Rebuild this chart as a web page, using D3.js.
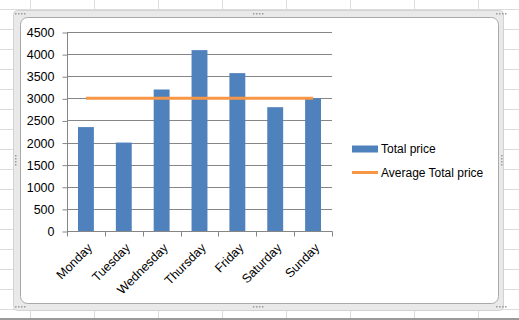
<!DOCTYPE html>
<html><head><meta charset="utf-8">
<script src="https://cdn.jsdelivr.net/npm/d3@7"></script>
<style>body{margin:0;background:#fff}svg{display:block}text{font-family:"Liberation Sans",Arial,sans-serif;fill:#000}</style>
</head><body><svg id="c" width="519" height="320"></svg>
<script>
const categories = ["Monday","Tuesday","Wednesday","Thursday","Friday","Saturday","Sunday"];
const totalPrice = [2350, 2000, 3200, 4090, 3570, 2800, 3000];
const averageTotal = [3000, 3000, 3000, 3000, 3000, 3000, 3000];
const yTicks = [0, 500, 1000, 1500, 2000, 2500, 3000, 3500, 4000, 4500];
const seriesNames = ["Total price", "Average Total price"];

const svg = d3.select("#c");
// spreadsheet grid
const g0 = svg.append("g");
for (let x = 30; x < 519; x += 64) g0.append("line").attr("x1", x+0.5).attr("x2", x+0.5).attr("y1", 0).attr("y2", 320).attr("stroke", "#dadcdd");
for (let y = 9; y < 320; y += 20) g0.append("line").attr("x1", 0).attr("x2", 519).attr("y1", y+0.5).attr("y2", y+0.5).attr("stroke", "#dadcdd");
svg.append("rect").attr("x", 0).attr("y", 318).attr("width", 519).attr("height", 2).attr("fill", "#9a9a9a");

// chart frame
svg.append("rect").attr("x", 13.5).attr("y", 10.5).attr("width", 490).attr("height", 300).attr("rx", 4).attr("fill", "#e9e9e9").attr("stroke", "#d2d2d2");
svg.append("rect").attr("x", 20.5).attr("y", 17.5).attr("width", 478).attr("height", 286).attr("rx", 7).attr("fill", "#fff").attr("stroke", "#a9a9a9");
// handles
function dots(cx, cy, vertical) {
  for (let i = 0; i < 4; i++) svg.append("rect").attr("x", vertical ? cx : cx + i*3).attr("y", vertical ? cy + i*3 : cy).attr("width", 1.5).attr("height", 1.5).attr("fill", "#9c9c9c");
}
dots(253, 13, false); dots(253, 306, false); dots(15, 155, true); dots(501, 155, true);
dots(15, 13, false); dots(496, 13, false); dots(15, 306, false); dots(496, 306, false);

const x = d3.scaleBand().domain(categories).range([67, 332]).paddingInner(0.58).paddingOuter(0.29);
const y = d3.scaleLinear().domain([0, 4500]).range([231, 32]);

// gridlines
svg.append("g").selectAll("line").data(yTicks.slice(1)).join("line")
  .attr("x1", 67).attr("x2", 332).attr("y1", d => Math.round(y(d))+0.5).attr("y2", d => Math.round(y(d))+0.5)
  .attr("stroke", "#868686");

// bars
svg.append("g").selectAll("rect").data(categories).join("rect")
  .attr("x", d => x(d)).attr("width", x.bandwidth())
  .attr("y", (d, i) => y(totalPrice[i])).attr("height", (d, i) => y(0) - y(totalPrice[i]))
  .attr("fill", "#4f81bd");

// y axis
const ya = svg.append("g").attr("transform", "translate(67.5,0.5)")
  .call(d3.axisLeft(y).tickValues(yTicks).tickSize(5).tickPadding(8).tickFormat(d3.format("d")));
ya.select(".domain").attr("stroke", "#868686").attr("d", `M0,${y(4500)-0.5}V${y(0)}`);
ya.selectAll(".tick line").attr("stroke", "#868686");
ya.selectAll("text").attr("font-size", 12.5).attr("font-family", "Liberation Sans, Arial, sans-serif").attr("fill", "#000");

// x axis
const step = x.step();
const xa = svg.append("g").attr("transform", "translate(0,231.5)");
xa.append("line").attr("x1", 67).attr("x2", 332.5).attr("stroke", "#868686");
const bounds = d3.range(categories.length + 1).map(i => 67 + i * step);
xa.selectAll("line.t").data(bounds).join("line").attr("class", "t")
  .attr("x1", d => Math.round(d)+0.5).attr("x2", d => Math.round(d)+0.5).attr("y1", 0).attr("y2", 5).attr("stroke", "#868686");
xa.selectAll("text").data(categories).join("text")
  .attr("transform", d => `translate(${x(d) + x.bandwidth()/2 + 4},${14}) rotate(-45)`)
  .attr("text-anchor", "end").attr("dy", "0.35em").attr("font-size", 12.5).text(d => d);

// average line
const line = d3.line().x(d => x(d) + x.bandwidth()/2).y((d, i) => y(averageTotal[i]));
svg.append("path").datum(categories).attr("d", line).attr("fill", "none").attr("stroke", "#f79646").attr("stroke-width", 3);

// legend
const lg = svg.append("g");
lg.append("rect").attr("x", 352).attr("y", 145.5).attr("width", 26).attr("height", 7).attr("fill", "#4f81bd");
lg.append("text").attr("x", 381).attr("y", 149).attr("dy", "0.35em").attr("font-size", 12).text(seriesNames[0]);
lg.append("line").attr("x1", 352).attr("x2", 378).attr("y1", 172.5).attr("y2", 172.5).attr("stroke", "#f79646").attr("stroke-width", 3);
lg.append("text").attr("x", 381).attr("y", 173).attr("dy", "0.35em").attr("font-size", 12).text(seriesNames[1]);
</script></body></html>
